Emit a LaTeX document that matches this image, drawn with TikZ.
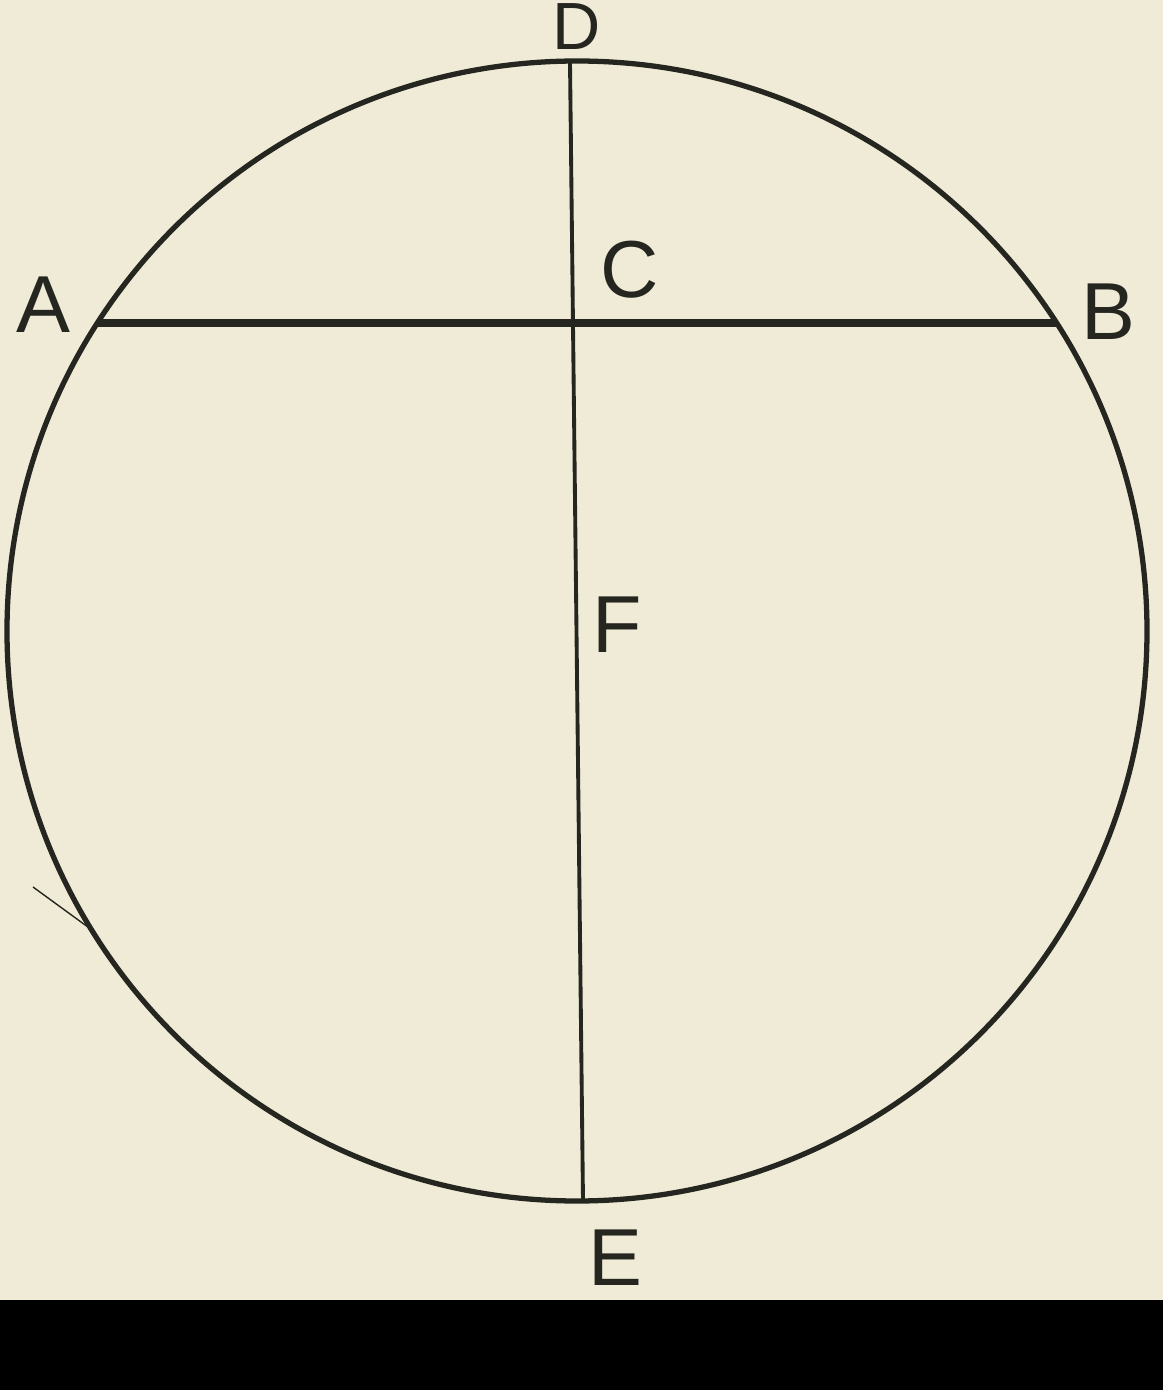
\documentclass[tikz,border=0pt]{standalone}
\usepackage{fontspec}
\setmainfont{Liberation Sans}
\definecolor{paper}{RGB}{239,235,214}
\definecolor{ink}{RGB}{38,38,32}
\tikzset{
  lbl/.style={text=ink,font=\fontsize{23}{26}\selectfont,inner sep=0pt},
  rim/.style={draw=ink,line width=1.5pt},
  cut/.style={draw=ink,line width=1.1pt}
}
\begin{document}
\begin{tikzpicture}
    \useasboundingbox (0,0) rectangle (11.63,13.90);
    \fill[paper] (0,0) rectangle (11.63,13.90);
    \fill[black] (0,0) rectangle (11.63,0.90);
    % circle and the points on it
    \coordinate (O) at (5.77,7.59);
    \coordinate (pA) at ([shift={(147.3:5.70)}]O);
    \coordinate (pB) at ([shift={(32.7:5.70)}]O);
    \coordinate (pD) at (5.70,13.28);
    \coordinate (pE) at (5.83,1.90);
    \coordinate (pm) at ([shift={(211.6:5.70)}]O);
    \coordinate (tail) at (0.33,5.03);
    \draw[rim] (O) circle (5.70);
    \draw[ink,line width=2.1pt] (pA) -- (pB);
    \draw[cut] (pD) -- (pE);
    \draw[ink,line width=0.4pt] (tail) -- (pm);
    % letters
    \node[lbl] (lA) at (0.43,10.85) {A};
    \node[lbl] (lB) at (11.08,10.78) {B};
    \node[lbl] (lC) at (6.30,11.20) {C};
    \node[lbl,font=\fontsize{19}{22}\selectfont,anchor=south] (lD) at (5.77,13.40) {D};
    \node[lbl] (lE) at (6.15,1.32) {E};
    \node[lbl] (lF) at (6.17,7.65) {F};
\end{tikzpicture}
\end{document}
